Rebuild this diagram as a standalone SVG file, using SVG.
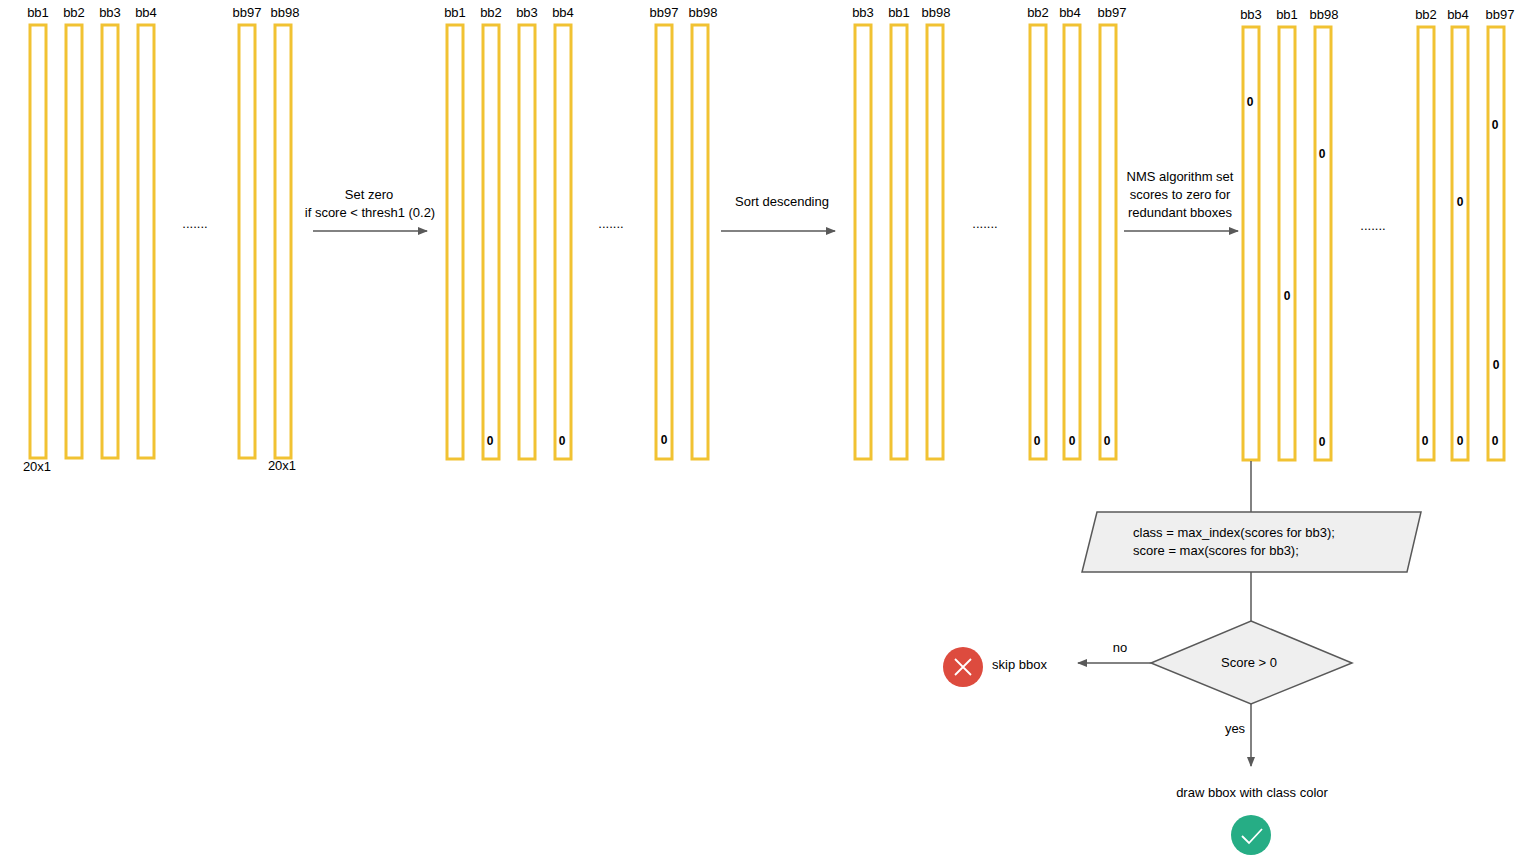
<svg xmlns="http://www.w3.org/2000/svg" width="1523" height="861" viewBox="0 0 1523 861">
<style>
text{font-family:"Liberation Sans",Arial,sans-serif;font-size:13px;fill:#000}
.bar{fill:none;stroke:#f1c232;stroke-width:3}
.z{font-weight:bold;font-size:12px;text-anchor:middle}
.l{text-anchor:middle}
.c{stroke:#595959;stroke-width:1.5;fill:none}
.s{fill:#efefef;stroke:#595959;stroke-width:1.5}
</style>
<defs><marker id="a" viewBox="0 0 10 10" refX="9" refY="5" markerWidth="7" markerHeight="7" orient="auto"><path d="M0,1L10,5L0,9z" fill="#595959"/></marker></defs>
<rect width="1523" height="861" fill="#fff"/>
<g id="group1">
<rect class="bar" x="30" y="25" width="16" height="433"/><rect class="bar" x="66" y="25" width="16" height="433"/><rect class="bar" x="102" y="25" width="16" height="433"/><rect class="bar" x="138" y="25" width="16" height="433"/><rect class="bar" x="239" y="25" width="16" height="433"/><rect class="bar" x="275" y="25" width="16" height="433"/>
<text class="l" x="38" y="17">bb1</text><text class="l" x="74" y="17">bb2</text><text class="l" x="110" y="17">bb3</text><text class="l" x="146" y="17">bb4</text><text class="l" x="247" y="17">bb97</text><text class="l" x="285" y="17">bb98</text>
<text class="l" x="37" y="471">20x1</text><text class="l" x="282" y="470">20x1</text>
<text class="l" x="195" y="228">.......</text>
</g>
<g id="group2">
<rect class="bar" x="447" y="25" width="16" height="434"/><rect class="bar" x="483" y="25" width="16" height="434"/><rect class="bar" x="519" y="25" width="16" height="434"/><rect class="bar" x="555" y="25" width="16" height="434"/><rect class="bar" x="656" y="25" width="16" height="434"/><rect class="bar" x="692" y="25" width="16" height="434"/>
<text class="l" x="455" y="17">bb1</text><text class="l" x="491" y="17">bb2</text><text class="l" x="527" y="17">bb3</text><text class="l" x="563" y="17">bb4</text><text class="l" x="664" y="17">bb97</text><text class="l" x="703" y="17">bb98</text>
<text class="z" x="490" y="445">0</text><text class="z" x="562" y="445">0</text><text class="z" x="664" y="444">0</text>
<text class="l" x="611" y="228">.......</text>
</g>
<g id="group3">
<rect class="bar" x="855" y="25" width="16" height="434"/><rect class="bar" x="891" y="25" width="16" height="434"/><rect class="bar" x="927" y="25" width="16" height="434"/><rect class="bar" x="1030" y="25" width="16" height="434"/><rect class="bar" x="1064" y="25" width="16" height="434"/><rect class="bar" x="1100" y="25" width="16" height="434"/>
<text class="l" x="863" y="17">bb3</text><text class="l" x="899" y="17">bb1</text><text class="l" x="936" y="17">bb98</text><text class="l" x="1038" y="17">bb2</text><text class="l" x="1070" y="17">bb4</text><text class="l" x="1112" y="17">bb97</text>
<text class="z" x="1037" y="445">0</text><text class="z" x="1072" y="445">0</text><text class="z" x="1107" y="445">0</text>
<text class="l" x="985" y="228">.......</text>
</g>
<g id="group4">
<rect class="bar" x="1243" y="27" width="16" height="433"/><rect class="bar" x="1279" y="27" width="16" height="433"/><rect class="bar" x="1315" y="27" width="16" height="433"/><rect class="bar" x="1418" y="27" width="16" height="433"/><rect class="bar" x="1452" y="27" width="16" height="433"/><rect class="bar" x="1488" y="27" width="16" height="433"/>
<text class="l" x="1251" y="19">bb3</text><text class="l" x="1287" y="19">bb1</text><text class="l" x="1324" y="19">bb98</text><text class="l" x="1426" y="19">bb2</text><text class="l" x="1458" y="19">bb4</text><text class="l" x="1500" y="19">bb97</text>
<text class="z" x="1250" y="106">0</text><text class="z" x="1287" y="300">0</text><text class="z" x="1322" y="158">0</text><text class="z" x="1322" y="446">0</text><text class="z" x="1425" y="445">0</text><text class="z" x="1460" y="206">0</text><text class="z" x="1460" y="445">0</text><text class="z" x="1495" y="129">0</text><text class="z" x="1496" y="369">0</text><text class="z" x="1495" y="445">0</text>
<text class="l" x="1373" y="230">.......</text>
</g>
<g id="labels">
<text class="l" x="369" y="199">Set zero</text><text class="l" x="370" y="217">if score &lt; thresh1 (0.2)</text>
<text class="l" x="782" y="206">Sort descending</text>
<text class="l" x="1180" y="181">NMS algorithm set</text><text class="l" x="1180" y="199">scores to zero for</text><text class="l" x="1180" y="217">redundant bboxes</text>
</g>
<g id="parallelogram"><path class="s" d="M1097,512H1421L1407,572H1082Z"/><text x="1133" y="537">class = max_index(scores for bb3);</text><text x="1133" y="555">score = max(scores for bb3);</text></g>
<g id="decision"><path class="s" d="M1251,621L1352,663L1251,704L1151,663Z"/><text class="l" x="1249" y="667">Score &gt; 0</text></g>
<g id="skip"><circle cx="963" cy="667" r="20" fill="#dd4b3e"/><path d="M955,659L971,675M971,659L955,675" stroke="#fff" stroke-width="1.8"/><text x="992" y="669">skip bbox</text></g>
<g id="draw"><text class="l" x="1252" y="797">draw bbox with class color</text><circle cx="1251" cy="835" r="20" fill="#26ad85"/><path d="M1242,836L1249,843L1262,829" stroke="#fff" stroke-width="1.8" fill="none"/></g>
<g id="connectors">
<line class="c" x1="313" y1="231" x2="427" y2="231" marker-end="url(#a)"/>
<line class="c" x1="721" y1="231" x2="835" y2="231" marker-end="url(#a)"/>
<line class="c" x1="1124" y1="231" x2="1238" y2="231" marker-end="url(#a)"/>
<line class="c" x1="1251" y1="461" x2="1251" y2="512"/>
<line class="c" x1="1251" y1="572" x2="1251" y2="621"/>
<line class="c" x1="1151" y1="663" x2="1078" y2="663" marker-end="url(#a)"/>
<line class="c" x1="1251" y1="704" x2="1251" y2="766" marker-end="url(#a)"/>
<text class="l" x="1120" y="652">no</text><text class="l" x="1235" y="733">yes</text>
</g>
</svg>
